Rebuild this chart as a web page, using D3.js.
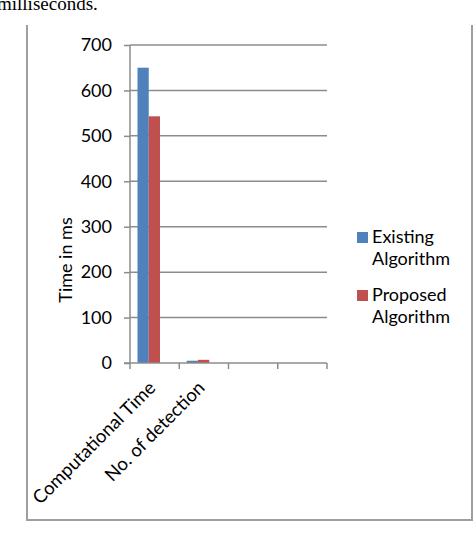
<!DOCTYPE html>
<html>
<head>
<meta charset="utf-8">
<script src="https://cdn.jsdelivr.net/npm/d3@7"></script>
<style>
  html, body { margin: 0; padding: 0; background: #fff; }
  svg { display: block; }
</style>
</head>
<body>
<div id="chart"></div>
<script>
(function () {
  'use strict';

  /* -----------------------------------------------------------
     Data
  ----------------------------------------------------------- */
  var CATEGORIES = ['Computational Time', 'No. of detection', '', ' '];
  var SERIES     = ['Existing Algorithm', 'Proposed Algorithm'];
  var EXISTING   = [650, 5, null, null];
  var PROPOSED   = [543, 7, null, null];
  var Y_TICKS    = [0, 100, 200, 300, 400, 500, 600, 700];
  var COLORS     = ['#4f81bd', '#c0504d'];

  var W = 474, H = 547;
  var FONT = 'Lato, "Open Sans", sans-serif';

  var svg = d3.select('#chart').append('svg')
    .attr('width', W).attr('height', H);

  /* caption fragment above the figure */
  svg.append('text')
    .attr('x', -3).attr('y', 10)
    .attr('font-family', '"Liberation Serif", serif')
    .attr('font-size', 19)
    .text('milliseconds.');

  /* figure frame (top edge is outside the crop) */
  svg.append('path')
    .attr('d', 'M27,25V520H472V25')
    .attr('fill', 'none')
    .attr('stroke', '#9e9e9e')
    .attr('stroke-width', 2);

  /* -----------------------------------------------------------
     Scales
  ----------------------------------------------------------- */
  var x = d3.scaleBand().domain(CATEGORIES).range([130, 327]).padding(0);
  var sub = d3.scaleBand().domain(SERIES).range([7.5, 30]).padding(0);
  var y = d3.scaleLinear().domain([0, 700]).range([363, 45]);

  /* gridlines */
  svg.append('g')
    .selectAll('line')
    .data(Y_TICKS.slice(1))
    .join('line')
    .attr('x1', 130).attr('x2', 327)
    .attr('y1', function (d) { return y(d); })
    .attr('y2', function (d) { return y(d); })
    .attr('stroke', '#8c8c8c')
    .attr('stroke-width', 1.5);

  /* bars */
  var values = [EXISTING, PROPOSED];
  SERIES.forEach(function (s, i) {
    var rows = CATEGORIES.map(function (c, j) { return { c: c, v: values[i][j] }; })
      .filter(function (d) { return d.v != null; });
    svg.append('g')
      .selectAll('rect')
      .data(rows)
      .join('rect')
      .attr('x', function (d) { return x(d.c) + sub(s); })
      .attr('width', sub.bandwidth())
      .attr('y', function (d) { return y(d.v); })
      .attr('height', function (d) { return y(0) - y(d.v); })
      .attr('fill', COLORS[i]);
  });

  /* y axis */
  var yAxis = svg.append('g')
    .attr('transform', 'translate(130,0)')
    .call(d3.axisLeft(y).tickValues(Y_TICKS).tickSize(6).tickPadding(12));
  yAxis.select('.domain').attr('stroke', '#8c8c8c').attr('stroke-width', 1.5)
    .attr('d', 'M0,45V363');
  yAxis.selectAll('.tick line').attr('stroke', '#8c8c8c').attr('stroke-width', 1.5);
  yAxis.selectAll('.tick text')
    .attr('font-family', FONT).attr('font-size', 18).attr('fill', '#000');

  /* x axis */
  var xAxis = svg.append('g')
    .attr('transform', 'translate(0,363)');
  xAxis.append('line')
    .attr('x1', 124).attr('x2', 327)
    .attr('stroke', '#8c8c8c').attr('stroke-width', 1.5);
  xAxis.selectAll('.xt')
    .data(CATEGORIES.concat(['end']))
    .join('line')
    .attr('class', 'xt')
    .attr('x1', function (d, i) { return i < CATEGORIES.length ? x(d) : x.range()[1]; })
    .attr('x2', function (d, i) { return i < CATEGORIES.length ? x(d) : x.range()[1]; })
    .attr('y1', 0).attr('y2', 6)
    .attr('stroke', '#8c8c8c').attr('stroke-width', 1.5);
  xAxis.selectAll('.xl')
    .data(CATEGORIES.filter(function (c) { return c.trim(); }))
    .join('text')
    .attr('class', 'xl')
    .attr('text-anchor', 'end')
    .attr('font-family', FONT).attr('font-size', 18.5)
    .attr('transform', function (d) {
      return 'translate(' + (x(d) + x.bandwidth() / 2 + 2) + ',26) rotate(-45)';
    })
    .text(function (d) { return d; });

  /* y title */
  svg.append('text')
    .attr('transform', 'translate(72,260) rotate(-90)')
    .attr('text-anchor', 'middle')
    .attr('font-family', FONT).attr('font-size', 18)
    .text('Time in ms');

  /* legend */
  var legend = svg.append('g');
  SERIES.forEach(function (s, i) {
    var g = legend.append('g').attr('transform', 'translate(357,' + (232 + i * 58) + ')');
    g.append('rect').attr('width', 11).attr('height', 11).attr('fill', COLORS[i]);
    g.selectAll('text')
      .data(s.split(' '))
      .join('text')
      .attr('x', 15)
      .attr('y', function (d, k) { return 11 + k * 22; })
      .attr('font-family', FONT).attr('font-size', 18)
      .text(function (d) { return d; });
  });
})();
</script>
</body>
</html>
